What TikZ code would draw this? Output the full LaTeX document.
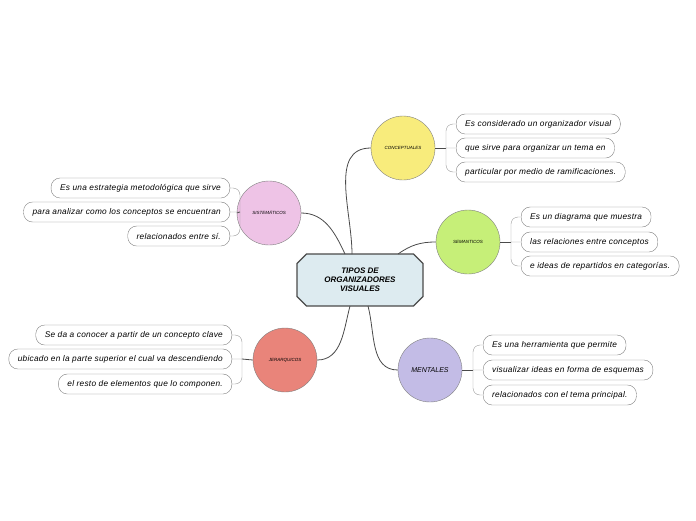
\documentclass[tikz,border=0pt]{standalone}
\usepackage{fontspec}
\setmainfont{Liberation Sans}
\newfontfamily\ideafont[LetterSpace=3]{Liberation Sans}
\usetikzlibrary{shapes.misc,positioning}
\definecolor{lineGray}{HTML}{4A4A4A}
\definecolor{topicBlue}{HTML}{DDEBF0}
\tikzstyle{topic}=[
	chamfered rectangle,
	chamfered rectangle xsep=6pt,
	very thick,
	draw=lineGray,
	fill=topicBlue,
	minimum width=126pt,
	minimum height=52pt,
	align=center,
	font=\bfseries\itshape\fontsize{8}{9}\selectfont
]
\tikzstyle{branch}=[
	circle,
	draw=gray,
	minimum size=64pt,
	inner sep=0pt,
	font=\itshape\fontsize{4.5}{5}\selectfont
]
\tikzstyle{idea}=[
	rectangle,
	rounded corners=9pt,
	draw=gray,
	fill=white,
	minimum height=20pt,
	inner xsep=9pt,
	font=\ideafont\itshape\fontsize{8.3}{9}\selectfont
]
\tikzstyle{link}=[
	draw=lineGray,
	thick
]
\tikzstyle{brace}=[
	draw=gray!80,
	rounded corners=7pt
]

\begin{document}
\begin{tikzpicture}[x=1pt,y=-1pt]
\useasboundingbox (0,0) rectangle (696,520);
\node [topic] (Tipos) at (360,280) {TIPOS DE\\ORGANIZADORES\\VISUALES};
% ramas
\node [branch, fill={rgb,255:red,248;green,236;blue,124}] (Conceptuales) at (403,148) {CONCEPTUALES};
\node [branch, fill={rgb,255:red,198;green,239;blue,120}] (Semanticos) at (468,242) {SEMANTICOS};
\node [branch, fill={rgb,255:red,195;green,188;blue,230}, font=\itshape\fontsize{7}{8}\selectfont] (Mentales) at (430,370) {MENTALES};
\node [branch, fill={rgb,255:red,233;green,132;blue,122}] (Jerarquicos) at (285,360) {JERARQUICOS};
\node [branch, fill={rgb,255:red,238;green,195;blue,230}] (Sistematicos) at (269,213) {SISTEMÁTICOS};
\draw [link] (352,254) to[out=90,in=180] (Conceptuales.west);
\draw [link] (398,254) to[out=35,in=180] (Semanticos.west);
\draw [link] (368,306) to[out=-75,in=180] (Mentales.west);
\draw [link] (350,306) to[out=-105,in=0] (Jerarquicos.east);
\draw [link] (345,254) to[out=115,in=0] (Sistematicos.east);
% ideas a la derecha
\foreach \name/\x/\y/\txt in {
	ConA/456/124/{Es considerado un organizador visual},
	ConB/456/148/{que sirve para organizar un tema en},
	ConC/456/172/{particular por medio de ramificaciones.},
	SemA/521/217/{Es un diagrama que muestra},
	SemB/521/242/{las relaciones entre conceptos},
	SemC/521/266/{e ideas de repartidos en categorías.},
	MenA/483/345/{Es una herramienta que permite},
	MenB/483/370/{visualizar ideas en forma de esquemas},
	MenC/483/395/{relacionados con el tema principal.}}
	\node [idea, anchor=west] (\name) at (\x,\y) {\txt};
% ideas a la izquierda
\foreach \name/\x/\y/\txt in {
	SisA/230/188/{Es una estrategia metodológica que sirve},
	SisB/230/212/{para analizar como los conceptos se encuentran},
	SisC/230/236/{relacionados entre sí.},
	JerA/232/335/{Se da a conocer a partir de un concepto clave},
	JerB/232/359/{ubicado en la parte superior el cual va descendiendo},
	JerC/232/384/{el resto de elementos que lo componen.}}
	\node [idea, anchor=east] (\name) at (\x,\y) {\txt};
% llaves
\coordinate (jCon) at (446,148);
\coordinate (jSem) at (511,242);
\coordinate (jMen) at (473,370);
\coordinate (jSis) at (240,212);
\coordinate (jJer) at (242,359);
\draw [link] (Conceptuales.east) -- (jCon);
\draw [link] (Semanticos.east) -- (jSem);
\draw [link] (Mentales.east) -- (jMen);
\draw [link] (Sistematicos.west) -- (jSis);
\draw [link] (Jerarquicos.west) -- (jJer);
\foreach \j/\a/\b/\c in {jCon/ConA/ConB/ConC, jSem/SemA/SemB/SemC, jMen/MenA/MenB/MenC}
	\draw [brace] (\j) |- (\a.west) (\j) -- (\b.west) (\j) |- (\c.west);
\foreach \j/\a/\b/\c in {jSis/SisA/SisB/SisC, jJer/JerA/JerB/JerC}
	\draw [brace] (\j) |- (\a.east) (\j) -- (\b.east) (\j) |- (\c.east);
\end{tikzpicture}
\end{document}
